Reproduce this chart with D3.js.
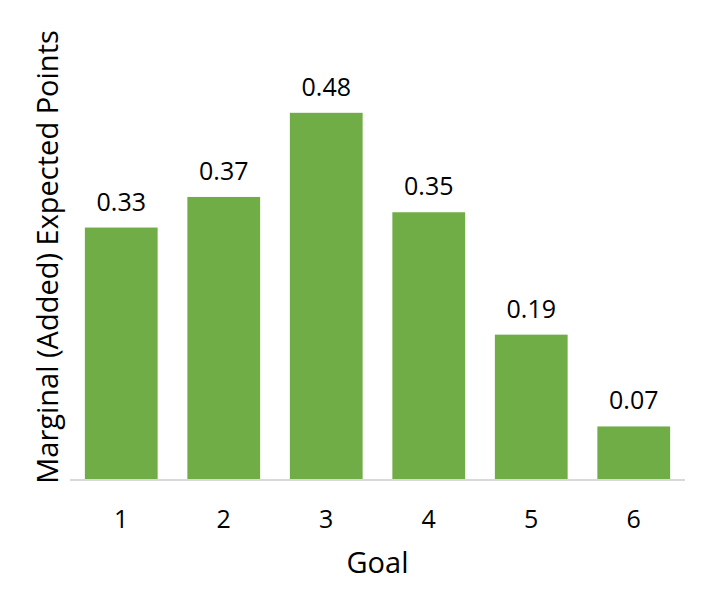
<!DOCTYPE html>
<html>
  <head>
    <meta charset="utf-8">
    <title>Marginal expected points per goal</title>
    <script src="https://d3js.org/d3.v7.min.js"></script>
    <style>
      body { margin: 0; background: #fff; }
      text { font-family: "Open Sans", sans-serif; fill: #000; }
    </style>
  </head>
  <body>
    <svg id="chart" width="708" height="608"></svg>
    <script>
      // data
      const goals = ["1", "2", "3", "4", "5", "6"];
      const addedPoints = [0.33, 0.37, 0.48, 0.35, 0.19, 0.07];
      const xTitle = "Goal";
      const yTitle = "Marginal (Added) Expected Points";

      const width = 708, height = 608;
      const margin = { top: 21, right: 23, bottom: 128, left: 70 };
      const svg = d3.select("#chart");

      const x = d3.scaleBand()
        .domain(goals)
        .range([margin.left, width - margin.right])
        .paddingInner(0.29)
        .paddingOuter(0.145);
      const y = d3.scaleLinear()
        .domain([0, 0.6])
        .range([height - margin.bottom, margin.top]);

      const rows = goals.map(function(g, i) { return { goal: g, value: addedPoints[i] }; });

      // bars
      svg.append("g")
        .selectAll("rect")
        .data(rows)
        .enter().append("rect")
          .attr("x", function(d) { return x(d.goal); })
          .attr("y", function(d) { return y(d.value); })
          .attr("width", x.bandwidth())
          .attr("height", function(d) { return y(0) - y(d.value); })
          .attr("fill", "#70ad47");

      // value labels
      svg.append("g")
        .selectAll("text")
        .data(rows)
        .enter().append("text")
          .attr("x", function(d) { return x(d.goal) + x.bandwidth() / 2; })
          .attr("y", function(d) { return y(d.value) - 17; })
          .attr("text-anchor", "middle")
          .style("font-size", "25px")
          .text(function(d) { return d3.format(".2f")(d.value); });

      // x axis
      const axis = d3.axisBottom(x).tickSize(0).tickPadding(30);
      const axisGroup = svg.append("g")
        .attr("transform", "translate(0," + y(0) + ")")
        .call(axis);
      axisGroup.select(".domain")
        .attr("stroke", "#d9d9d9")
        .attr("stroke-width", 2)
        .attr("d", "M" + margin.left + ",0H" + (width - margin.right));
      axisGroup.selectAll(".tick text")
        .style("font-size", "25px")
        .style("font-family", "'Open Sans', sans-serif")
        .attr("fill", "#000");

      // axis titles
      svg.append("text")
        .attr("x", (margin.left + width - margin.right) / 2)
        .attr("y", 573)
        .attr("text-anchor", "middle")
        .style("font-size", "29px")
        .text(xTitle);
      svg.append("text")
        .attr("transform", "translate(57.5,257) rotate(-90)")
        .attr("text-anchor", "middle")
        .style("font-size", "29px")
        .text(yTitle);
    </script>
  </body>
</html>
